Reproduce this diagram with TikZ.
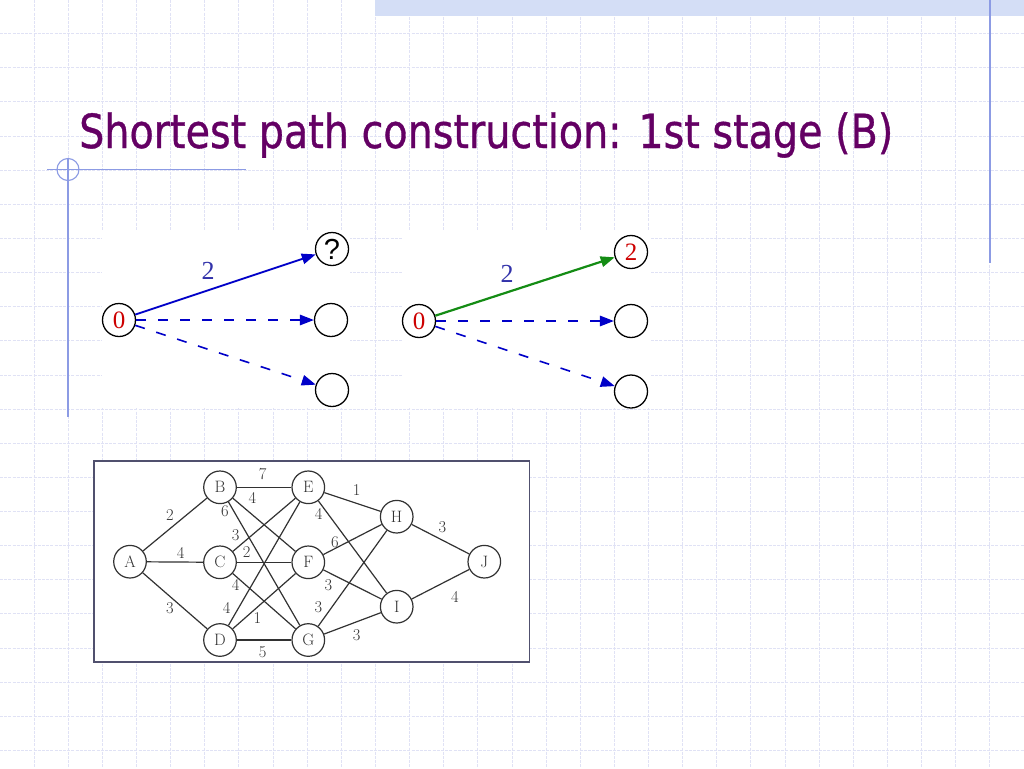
\documentclass[tikz,border=0pt]{standalone}
\usepackage{fontspec}
\usepackage{graphicx}
\usetikzlibrary{arrows.meta}
\newfontfamily\titlefont[FakeBold=0.8]{DejaVu Sans}
\newfontfamily\timesf{Liberation Serif}
\newfontfamily\arialf{Liberation Sans}
\definecolor{gridc}{RGB}{224,226,245}
\definecolor{decoc}{RGB}{140,155,228}
\definecolor{barc}{RGB}{212,222,246}
\definecolor{titlec}{RGB}{100,0,100}
\definecolor{arrowblue}{RGB}{0,0,200}
\definecolor{lblblue}{RGB}{50,50,170}
\definecolor{arrowgreen}{RGB}{20,140,20}
\definecolor{nred}{RGB}{205,0,0}
\definecolor{edgec}{RGB}{50,50,50}
\definecolor{boxc}{RGB}{80,80,110}
\tikzset{
  gridline/.style={draw=gridc, line width=0.9pt, dash pattern=on 3pt off 1.2pt},
  deco/.style={draw=decoc, line width=1.1pt},
  snode/.style={circle, draw=black, line width=1.3pt, minimum size=33pt, inner sep=0pt},
  ntext/.style={font=\fontsize{25}{27}\timesf, text=nred},
  elbl/.style={font=\fontsize{26}{28}\timesf, text=lblblue, inner sep=0pt},
  solidarr/.style={draw=arrowblue, line width=1.8pt, -{Triangle[length=14pt,width=10.5pt]}},
  dasharr/.style={draw=arrowblue, line width=1.6pt, dash pattern=on 10pt off 12pt, -{Triangle[length=14pt,width=10.5pt,fill=arrowblue]}},
  greenarr/.style={draw=arrowgreen, line width=2.2pt, -{Triangle[length=14pt,width=10.5pt]}},
  gnode/.style={circle, draw=edgec, line width=1.2pt, minimum size=32.6pt, inner sep=0pt, fill=white, text=black!80, font=\fontsize{16.5}{18}\selectfont},
  gedge/.style={draw=edgec, line width=1.2pt},
  glbl/.style={inner sep=0pt, text=black!80, font=\fontsize{16.5}{18}\selectfont},
}
\begin{document}
\begin{tikzpicture}[x=1pt, y=-1pt]
\useasboundingbox (0,0) rectangle (1024,768);
\fill[white] (0,0) rectangle (1024,768);
% background grid
\foreach \i in {1,...,29} { \draw[gridline] (\i*34.133,0) -- (\i*34.133,768); }
\foreach \j in {1,...,22} { \draw[gridline] (0,\j*34.133-0.5) -- (1024,\j*34.133-0.5); }
% top bar and right line
\fill[barc] (375,0) rectangle (1024,16);
\draw[deco, line width=1.5pt] (990,0) -- (990,263);
% white picture areas
\fill[white] (102,230) rectangle (350,408);
\fill[white] (402,230) rectangle (650,408);
% left decoration
\draw[deco] (47,169.5) -- (246,169.5);
\draw[deco] (68,158) -- (68,417);
\draw[deco] (68,169.5) circle (11);
% title
\node[anchor=base west, inner sep=0pt, text=titlec] (title) at (79,148)
  {\resizebox{814pt}{\height}{\fontsize{47}{56}\titlefont Shortest path construction: 1st stage (B)}};
% left small diagram
\node[snode, ntext] (z0) at (119,320) {0};
\node[snode, font=\fontsize{29}{31}\arialf] (q) at (332,249) {?};
\node[snode] (m1) at (331,320) {};
\node[snode] (b1) at (332,390) {};
\draw[solidarr] (z0) -- (q);
\draw[dasharr] (z0) -- (m1);
\draw[dasharr] (z0) -- (b1);
\node[elbl] (l1) at (208,271) {2};
% right small diagram
\node[snode, ntext] (z0r) at (419,321) {0};
\node[snode, ntext] (t) at (631,252) {2};
\node[snode] (m2) at (631,321) {};
\node[snode] (b2) at (631,391.5) {};
\draw[greenarr] (z0r) -- (t);
\draw[dasharr] (z0r) -- (m2);
\draw[dasharr] (z0r) -- (b2);
\node[elbl] (l2) at (507,274) {2};
% graph box
\draw[fill=white, draw=boxc, line width=1.2pt] (94,461) rectangle (529.5,662);
\node[gnode] (A) at (130,561.7) {A};
\node[gnode] (B) at (220,487.3) {B};
\node[gnode] (C) at (220,562.3) {C};
\node[gnode] (D) at (220,640) {D};
\node[gnode] (E) at (308.3,487.3) {E};
\node[gnode] (F) at (308.3,562.3) {F};
\node[gnode] (G) at (308.3,640) {G};
\node[gnode] (H) at (396.7,516.7) {H};
\node[gnode] (I) at (396.7,606.7) {I};
\node[gnode] (J) at (484.3,561.7) {J};
\foreach \a/\b in {A/B,A/C,A/D,B/E,B/F,B/G,C/E,C/F,C/G,D/E,D/F,D/G,E/H,E/I,F/H,F/I,G/H,G/I,H/J,I/J}
  { \draw[gedge] (\a) -- (\b); }
\node[glbl] (wab) at (170,515) {2};
\node[glbl] (wac) at (180.7,553) {4};
\node[glbl] (wad) at (170,608.3) {3};
\node[glbl] (wbe) at (262.7,474.5) {7};
\node[glbl] (wbf) at (252.3,498) {4};
\node[glbl] (wbg) at (225,511.5) {6};
\node[glbl] (wce) at (235.7,535) {3};
\node[glbl] (wcf) at (246.7,552) {2};
\node[glbl] (wcg) at (235.7,585) {4};
\node[glbl] (wde) at (226.7,608.3) {4};
\node[glbl] (wdf) at (257.3,618.3) {1};
\node[glbl] (wdg) at (262.7,651.7) {5};
\node[glbl] (weh) at (356.7,490) {1};
\node[glbl] (wei) at (318.7,514.3) {4};
\node[glbl] (wfh) at (335,541.7) {6};
\node[glbl] (wfi) at (328.3,585) {3};
\node[glbl] (wgh) at (318.3,606.7) {3};
\node[glbl] (wgi) at (356.7,635) {3};
\node[glbl] (whj) at (442.3,526.7) {3};
\node[glbl] (wij) at (455,596.7) {4};
\end{tikzpicture}
\end{document}
